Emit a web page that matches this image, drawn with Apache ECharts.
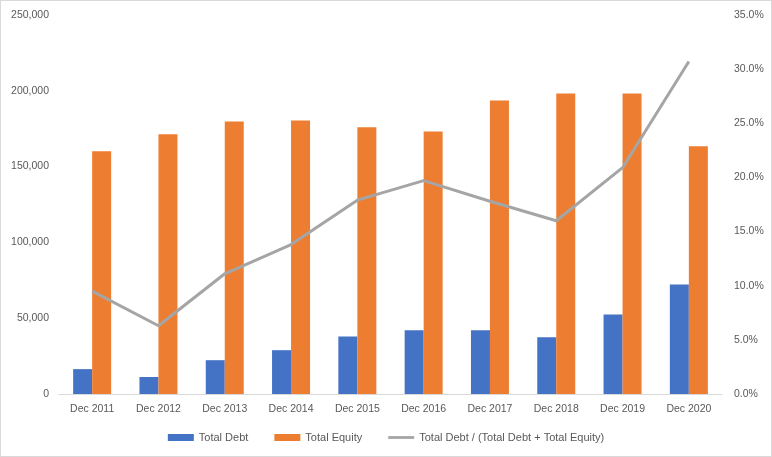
<!DOCTYPE html>
<html><head><meta charset="utf-8">
<script src="https://cdn.jsdelivr.net/npm/echarts@6/dist/echarts.min.js"></script>
<style>html,body{margin:0;padding:0;background:#fff}#c{width:772px;height:457px;box-sizing:border-box;border:1px solid #d9d9d9}</style>
</head><body><div id="c"></div>
<script>
const categories = ['Dec 2011','Dec 2012','Dec 2013','Dec 2014','Dec 2015','Dec 2016','Dec 2017','Dec 2018','Dec 2019','Dec 2020'];
const totalDebt = [16400, 11200, 22300, 28900, 38000, 42000, 42000, 37400, 52500, 72200];
const totalEquity = [160100, 171300, 179800, 180400, 175900, 173200, 193600, 198200, 198200, 163400];
const debtRatio = [9.5, 6.3, 11.1, 13.8, 17.9, 19.7, 17.8, 16.0, 20.9, 30.7];

const chart = echarts.init(document.getElementById('c'));
const font = 'Liberation Sans';
const txt = '#595959';
chart.setOption({
  animation: false,
  textStyle: {fontFamily: font},
  grid: {left: 58, right: 49, top: 14, bottom: 62},
  legend: {
    bottom: 8, left: 'center', itemGap: 26, itemWidth: 26, itemHeight: 7,
    textStyle: {color: txt, fontSize: 11, fontFamily: font},
    data: [
      {name: 'Total Debt', icon: 'rect'},
      {name: 'Total Equity', icon: 'rect'},
      {name: 'Total Debt / (Total Debt + Total Equity)', icon: 'path://M0,0H28V3H0Z', itemStyle: {color: '#a5a5a5'}}
    ]
  },
  xAxis: {
    type: 'category', data: categories,
    axisLine: {lineStyle: {color: '#d9d9d9'}},
    axisTick: {show: false},
    axisLabel: {color: txt, fontSize: 10.5, margin: 10}
  },
  yAxis: [
    {type: 'value', min: 0, max: 250000, interval: 50000,
     splitLine: {show: false}, axisLine: {show: false}, axisTick: {show: false},
     axisLabel: {color: txt, fontSize: 10.5, margin: 10,
       formatter: v => v.toLocaleString('en-US')}},
    {type: 'value', min: 0, max: 35, interval: 5, position: 'right',
     splitLine: {show: false}, axisLine: {show: false}, axisTick: {show: false},
     axisLabel: {color: txt, fontSize: 10.5, margin: 12, align: 'left',
       formatter: v => v.toFixed(1) + '%'}}
  ],
  series: [
    {name: 'Total Debt', type: 'bar', data: totalDebt, barWidth: 19, barGap: '0%',
     itemStyle: {color: '#4472c4'}},
    {name: 'Total Equity', type: 'bar', data: totalEquity, barWidth: 19, barGap: '0%',
     itemStyle: {color: '#ed7d31'}},
    {name: 'Total Debt / (Total Debt + Total Equity)', type: 'line', yAxisIndex: 1,
     data: debtRatio, symbol: 'none', lineStyle: {color: '#a5a5a5', width: 3},
     itemStyle: {color: '#a5a5a5'}}
  ]
});
</script></body></html>
